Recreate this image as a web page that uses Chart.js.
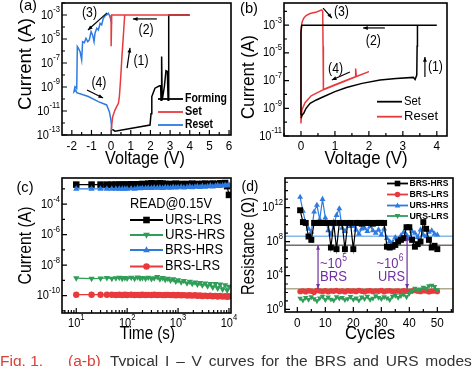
<!DOCTYPE html>
<html>
<head>
<meta charset="utf-8">
<title>Fig. 1</title>
<script src="https://cdn.jsdelivr.net/npm/chart.js@4.4.1/dist/chart.umd.min.js"></script>
<style>
  html, body { margin: 0; padding: 0; background: #fff; }
  body { width: 474px; height: 366px; position: relative; overflow: hidden; font-family: "Liberation Sans", Arial, sans-serif; }
  canvas { position: absolute; left: 0; top: 0; }
  #cap { position: absolute; left: 0; top: 353px; width: 474px; height: 20px; font-size: 15.5px; line-height: 1; white-space: nowrap; color: #333; }
  #cap span { position: absolute; top: 0; }
  .r { color: #d8403a; }
</style>
</head>
<body>
<canvas id="ca" width="474" height="366"></canvas>
<canvas id="cb" width="474" height="366"></canvas>
<canvas id="cc" width="474" height="366"></canvas>
<canvas id="cd" width="474" height="366"></canvas>
<div id="cap"><span class="r" style="left:0">Fig. 1.</span><span class="r" style="left:68px">(a-b)</span><span style="left:110px;word-spacing:2.5px">Typical I – V curves for the BRS and URS modes</span></div>
<script>
const FONT = '"Liberation Sans", Arial, sans-serif';
const RED = '#e83a3c', BLUE = '#2d7be0', GREEN = '#2f9e58', PURPLE = '#7030a0';

// (a) BRS I-V : [voltage, current]
const aForming = [[0.06, 3e-13], [0.2, 2.1e-13], [1.05, 3.6e-13], [1.98, 6.8e-13], [2.03, 6e-12], [2.07, 1.6e-10],
  [2.23, 8e-10], [2.44, 1.2e-9], [2.52, 1.3e-9], [2.54, 8e-11], [2.57, 3.4e-7], [2.6, 8e-11], [2.71, 1.1e-9],
  [2.79, 2.3e-8], [2.86, 2e-8], [2.9, 8e-11], [2.93, 1e-3], [4.0, 1e-3]];
const aSet = [[0.0, 2.6e-13], [0.08, 3.4e-12], [0.2, 1.26e-11], [0.37, 4.4e-11], [0.42, 1.6e-10], [0.49, 7.2e-9],
  [0.55, 3.4e-7], [0.62, 1.6e-5], [0.69, 1e-3], [4.0, 1e-3], [0.03, 1e-3], [0.0, 5e-4], [0.0, 2.5e-6]];
const aReset = [[0.03, 2e-4], [-0.06, 7.2e-4], [-0.14, 1.4e-3], [-0.23, 1e-3], [-0.31, 8.3e-4], [-0.4, 5.2e-4],
  [-0.48, 1.5e-4], [-0.56, 2e-4], [-0.65, 5.6e-5], [-0.73, 7.8e-5], [-0.82, 3e-5], [-0.87, 6e-6], [-0.94, 2.1e-5],
  [-1.02, 4.1e-5], [-1.11, 8.3e-6], [-1.19, 6e-6], [-1.28, 1.15e-5], [-1.36, 5e-6], [-1.45, 6e-6], [-1.5, 1.8e-7],
  [-1.58, 8.7e-7], [-1.67, 1.7e-6], [-1.72, 2.3e-6], [-1.75, 7.8e-10], [-1.84, 1.07e-9], [-1.89, 4e-10],
  [-1.8, 5.6e-10], [-1.75, 3.4e-10], [-1.16, 1.6e-10], [-0.65, 6e-11], [-0.23, 3.2e-11], [-0.09, 8.7e-12],
  [-0.01, 1.8e-12], [0.03, 3.6e-13]];
const aXTicks = [-2, -1, 0, 1, 2, 3, 4, 5, 6];
const aYExp = [-13, -11, -9, -7, -5, -3];

// (b) URS I-V
const bSet = [[0, 1.9e-10], [0.03, 3.2e-10], [0.08, 4.4e-10], [0.15, 1e-9], [0.27, 2.3e-9], [0.45, 4e-9],
  [0.66, 6.8e-9], [1.0, 1.6e-8], [1.34, 3.2e-8], [1.8, 6.3e-8], [2.33, 1.1e-7], [2.8, 1.4e-7], [3.31, 1.7e-7],
  [3.36, 1.2e-7], [3.41, 2.5e-7], [3.42, 3e-5], [3.43, 1e-3], [4.0, 1e-3], [0.02, 1e-3], [0.0, 3e-4], [0.0, 3e-10]];
const bReset = [[0.0, 8e-11], [0.0, 4e-4], [0.03, 1.6e-3], [0.08, 3.2e-3], [0.15, 5e-3], [0.27, 7e-3],
  [0.46, 9e-3], [0.61, 1.26e-2], [0.64, 1e-2], [0.65, 3e-5], [0.66, 2.3e-8], [1.0, 5e-8], [1.3, 1e-7],
  [1.6, 1.9e-7], [1.61, 7.4e-7], [1.63, 2e-7], [2.0, 4.4e-7], [0.66, 2.2e-8], [0.3, 7.9e-9], [0.12, 2.5e-9],
  [0.03, 7.9e-10], [0.0, 1e-10]];
const bXTicks = [0, 1, 2, 3, 4];
const bYExp = [-11, -9, -7, -5, -3];

// (c) retention, read at 0.15 V
const cTime = [10, 20, 30, 40, 50, 60, 70, 80, 90, 100, 120, 140, 160, 180, 200, 230, 260, 300, 340, 390,
  440, 500, 560, 630, 710, 800, 900, 1000, 1150, 1300, 1500, 1700, 1900, 2150, 2400, 2700, 3000, 3400, 3800,
  4300, 4800, 5400, 6000, 6700, 7500, 8400, 9200, 10000];
const cUrsLrs = [1.9e-3, 1.9e-3, 1.9e-3, 1.9e-3, 1.9e-3, 1.9e-3, 1.9e-3, 1.9e-3, 1.9e-3, 1.9e-3,
  2.0e-3, 1.9e-3, 2.0e-3, 2.0e-3, 2.1e-3, 2.0e-3, 2.2e-3, 2.3e-3, 2.2e-3, 2.1e-3,
  2.3e-3, 2.2e-3, 2.1e-3, 2.0e-3, 2.1e-3, 2.0e-3, 2.2e-3, 2.0e-3, 2.1e-3, 2.0e-3,
  2.1e-3, 2.0e-3, 2.2e-3, 2.0e-3, 2.1e-3, 2.0e-3, 2.1e-3, 2.2e-3, 2.0e-3, 2.1e-3,
  2.2e-3, 2.0e-3, 2.1e-3, 2.3e-3, 2.2e-3, 2.4e-3, 1.5e-3, 4e-4];
const cUrsHrs = [1.4e-9, 1.3e-9, 1.35e-9, 1.45e-9, 1.3e-9, 1.4e-9, 1.5e-9, 1.3e-9, 1.45e-9, 1.35e-9,
  1.5e-9, 1.3e-9, 1.6e-9, 1.35e-9, 1.45e-9, 1.3e-9, 1.55e-9, 1.25e-9, 1.4e-9, 1.7e-9,
  1.2e-9, 1.45e-9, 1.1e-9, 1.3e-9, 1.0e-9, 1.2e-9, 8.5e-10, 1.05e-9, 7.5e-10, 9.5e-10,
  6.5e-10, 8.5e-10, 6e-10, 7.5e-10, 5.5e-10, 7e-10, 4.8e-10, 6.5e-10, 4.2e-10, 6e-10,
  3.5e-10, 6e-10, 3e-10, 5.5e-10, 2.6e-10, 5e-10, 2.2e-10, 4e-10];
const cBrsHrs = [1.0e-3, 1.0e-3, 1.0e-3, 1.0e-3, 1.0e-3, 1.0e-3, 1.0e-3, 1.0e-3, 1.0e-3, 1.0e-3,
  1.05e-3, 1.0e-3, 1.1e-3, 1.05e-3, 1.1e-3, 1.1e-3, 1.15e-3, 1.1e-3, 1.2e-3, 1.15e-3,
  1.2e-3, 1.1e-3, 1.25e-3, 1.2e-3, 1.15e-3, 1.3e-3, 1.2e-3, 1.25e-3, 1.35e-3, 1.2e-3,
  1.3e-3, 1.4e-3, 1.25e-3, 1.35e-3, 1.45e-3, 1.3e-3, 1.5e-3, 1.35e-3, 1.45e-3, 1.6e-3,
  1.4e-3, 1.55e-3, 1.7e-3, 1.5e-3, 1.6e-3, 1.75e-3, 1.6e-3, 1.8e-3];
const cBrsLrs = [1.15e-10, 1.15e-10, 1.15e-10, 1.15e-10, 1.15e-10, 1.1e-10, 1.15e-10, 1.1e-10, 1.15e-10, 1.1e-10,
  1.15e-10, 1.1e-10, 1.12e-10, 1.1e-10, 1.15e-10, 1.1e-10, 1.12e-10, 1.1e-10, 1.15e-10, 1.1e-10,
  1.12e-10, 1.08e-10, 1.1e-10, 1.12e-10, 1.08e-10, 1.1e-10, 1.05e-10, 1.1e-10, 1.05e-10, 1.08e-10,
  1.02e-10, 1.06e-10, 1e-10, 1.05e-10, 9.8e-11, 1.02e-10, 9.5e-11, 1e-10, 9.3e-11, 9.8e-11,
  9e-11, 9.6e-11, 8.8e-11, 9.4e-11, 8.6e-11, 9.2e-11, 8.5e-11, 9e-11];
const cXExp = [1, 2, 3, 4];
const cYExp = [-10, -8, -6, -4];

// (d) endurance, resistance per cycle
const dCycle = [1, 2, 3, 4, 5, 6, 7, 8, 9, 10, 11, 12, 13, 14, 15, 16, 17, 18, 19, 20, 21, 22, 23, 24, 25,
  26, 27, 28, 29, 30, 31, 32, 33, 34, 35, 36, 37, 38, 39, 40, 41, 42, 43, 44, 45, 46, 47, 48, 49, 50];
const dBrsHrs = [5e11, 2e10, 1.6e10, 4e8, 1.6e8, 1.6e10, 1.6e10, 1.6e10, 1.6e10, 1.6e10,
  1.6e10, 2e7, 1.6e10, 1.3e7, 1.6e10, 1.6e10, 1.3e7, 1.6e10, 1.6e10, 1.3e7,
  1.6e10, 1.6e10, 1.3e10, 1.6e10, 1.6e10, 1.6e10, 1.3e10, 1.6e10, 1.6e10, 1.6e10,
  1.6e10, 2.5e7, 2e7, 2.5e7, 4e7, 1e8, 1.6e8, 2.5e8, 5e9, 5e9,
  1.6e8, 2.5e7, 5e7, 1e8, 2e10, 3.2e9, 1.6e8, 2e7, 3.2e7, 1.3e7];
const dBrsLrs = [130, 150, 120, 160, 140, 110, 170, 150, 130, 160, 120, 150, 140, 170, 130, 150, 120, 160, 140, 150,
  130, 170, 140, 120, 150, 160, 130, 150, 140, 170, 120, 150, 160, 130, 140, 150, 120, 160, 140, 130,
  150, 170, 140, 130, 160, 150, 120, 140, 150, 130];
const dUrsHrs = [1.8e13, 4e11, 1.6e10, 3.2e9, 1.3e9, 3.2e11, 2e12, 4e10, 1e13, 6.3e10,
  2e9, 7.9e8, 1e10, 1.3e11, 7.9e11, 4e9, 1.6e9, 1e10, 6.3e9, 6.3e9,
  2.5e9, 7.9e8, 3.2e9, 4e9, 1.6e9, 6.3e9, 2e9, 1e9, 2.5e9, 6.3e8,
  3.2e9, 2.5e8, 1e8, 7.9e7, 3.2e8, 2e8, 5e8, 1.3e9, 6.3e8, 2.5e8,
  1.6e9, 1e9, 3.2e8, 2.5e9, 6.3e8, 4e8, 1.3e9, 2e9, 7.9e8, 6.3e8];
const dUrsLrs = [20, 12, 25, 15, 30, 18, 10, 22, 35, 14, 28, 16, 12, 30, 20, 25, 14, 18, 32, 15,
  22, 12, 28, 18, 35, 15, 20, 40, 25, 18, 30, 22, 14, 35, 45, 25, 40, 60, 30, 80,
  150, 300, 200, 250, 400, 300, 600, 700, 500, 200];
const dLevels = [4.3e8, 3.7e7, 2.8e2]; // URS-HRS mean, BRS-HRS mean, LRS mean
const dXTicks = [0, 10, 20, 30, 40, 50];
const dYExp = [0, 4, 8, 12];

// ---------- helpers ----------
function pts(arr) { return arr.map(p => ({ x: p[0], y: p[1] })); }
function zip(xs, ys) { return xs.map((x, i) => ({ x: x, y: ys[i] })); }

function curve(data, color) {
  return { data: data, borderColor: color, backgroundColor: color, borderWidth: 1.5, showLine: true, pointRadius: 0, tension: 0 };
}
function series(data, color, style, r, rot) {
  return { data: data, borderColor: color, backgroundColor: color, borderWidth: 1.2, showLine: true,
    pointStyle: style, pointRadius: r, pointRotation: rot || 0, pointBorderWidth: 0 };
}
function opts(box, x, y) {
  return {
    responsive: false, animation: false, events: [],
    layout: { padding: { left: box[0], right: 474 - box[1], top: box[2], bottom: 366 - box[3] } },
    plugins: { legend: { display: false }, tooltip: { enabled: false } },
    scales: { x: Object.assign({ display: false }, x), y: Object.assign({ display: false }, y) }
  };
}

function txt(ctx, s, x, y, o) {
  o = o || {};
  ctx.save();
  ctx.font = (o.bold ? 'bold ' : '') + (o.size || 13) + 'px ' + FONT;
  ctx.fillStyle = o.color || '#000';
  ctx.textBaseline = 'middle';
  ctx.textAlign = o.align || 'center';
  const m = ctx.measureText(s).width;
  const sx = o.w ? o.w / m : (o.sx || 1);
  ctx.translate(x, y);
  if (o.rot) ctx.rotate(-Math.PI / 2);
  ctx.scale(sx, 1);
  ctx.fillText(s, 0, 0);
  ctx.restore();
}

function pow(ctx, base, e, x, y, align, o) {
  o = o || {};
  const size = o.size || 13, es = o.es || 9, sx = o.sx || 0.85, up = o.up || 5;
  ctx.save();
  ctx.font = size + 'px ' + FONT;
  const wb = ctx.measureText(base).width * sx;
  ctx.font = es + 'px ' + FONT;
  const we = ctx.measureText(e).width * sx;
  ctx.restore();
  const left = align === 'right' ? x - wb - we : align === 'center' ? x - (wb + we) / 2 : x;
  txt(ctx, base, left, y, { size: size, sx: sx, align: 'left', color: o.color });
  txt(ctx, e, left + wb, y - up, { size: es, sx: sx, align: 'left', color: o.color });
}

function frame(chart, t) {
  const ctx = chart.ctx, a = chart.chartArea, X = chart.scales.x, Y = chart.scales.y;
  ctx.save();
  ctx.strokeStyle = '#000';
  ctx.lineWidth = 1.2;
  ctx.beginPath();
  t.yMaj.forEach(v => { const p = Y.getPixelForValue(v); ctx.moveTo(a.left, p); ctx.lineTo(a.left + 5, p); });
  t.yMin.forEach(v => { const p = Y.getPixelForValue(v); ctx.moveTo(a.left, p); ctx.lineTo(a.left + 3, p); });
  t.xMaj.forEach(v => { const p = X.getPixelForValue(v); ctx.moveTo(p, a.bottom); ctx.lineTo(p, a.bottom - 5); });
  t.xMin.forEach(v => { const p = X.getPixelForValue(v); ctx.moveTo(p, a.bottom); ctx.lineTo(p, a.bottom - 3); });
  ctx.stroke();
  ctx.lineWidth = 1.6;
  ctx.strokeRect(a.left, a.top, a.right - a.left, a.bottom - a.top);
  ctx.restore();
}

function P(chart, x, y) { return [chart.scales.x.getPixelForValue(x), chart.scales.y.getPixelForValue(y)]; }

function head(ctx, from, to, size) {
  const ang = Math.atan2(to[1] - from[1], to[0] - from[0]);
  ctx.beginPath();
  ctx.moveTo(to[0], to[1]);
  ctx.lineTo(to[0] - size * Math.cos(ang - 0.4), to[1] - size * Math.sin(ang - 0.4));
  ctx.lineTo(to[0] - size * Math.cos(ang + 0.4), to[1] - size * Math.sin(ang + 0.4));
  ctx.closePath();
  ctx.fill();
}
function arrow(ctx, p1, p2, color, both) {
  ctx.save();
  ctx.strokeStyle = color || '#000';
  ctx.fillStyle = color || '#000';
  ctx.lineWidth = 1.2;
  ctx.beginPath();
  ctx.moveTo(p1[0], p1[1]);
  ctx.lineTo(p2[0], p2[1]);
  ctx.stroke();
  head(ctx, p1, p2, 5);
  if (both) head(ctx, p2, p1, 5);
  ctx.restore();
}

function marker(ctx, style, x, y, r, color) {
  ctx.save();
  ctx.fillStyle = color;
  ctx.beginPath();
  if (style === 'rect') ctx.rect(x - r, y - r, 2 * r, 2 * r);
  else if (style === 'circle') ctx.arc(x, y, r, 0, Math.PI * 2);
  else if (style === 'up') { ctx.moveTo(x, y - r * 1.1); ctx.lineTo(x + r, y + r * 0.7); ctx.lineTo(x - r, y + r * 0.7); }
  else { ctx.moveTo(x, y + r * 1.1); ctx.lineTo(x + r, y - r * 0.7); ctx.lineTo(x - r, y - r * 0.7); }
  ctx.closePath();
  ctx.fill();
  ctx.restore();
}
function legLine(ctx, x1, x2, y, color, w) {
  ctx.save();
  ctx.strokeStyle = color;
  ctx.lineWidth = w || 1.8;
  ctx.beginPath();
  ctx.moveTo(x1, y);
  ctx.lineTo(x2, y);
  ctx.stroke();
  ctx.restore();
}

function range(a, b, step, skip) {
  const out = [];
  for (let v = a; v <= b + 1e-9; v += step) if (!skip || skip.indexOf(Math.round(v * 100) / 100) < 0) out.push(v);
  return out;
}
const exp10 = e => Math.pow(10, e);

// ---------- (a) ----------
new Chart(document.getElementById('ca'), {
  type: 'scatter',
  data: { datasets: [curve(pts(aSet), RED), curve(pts(aReset), BLUE), curve(pts(aForming), '#000')] },
  options: opts([62, 231, 3, 135], { type: 'linear', min: -2.5, max: 6.1 }, { type: 'logarithmic', min: 1e-13, max: 1e-2 }),
  plugins: [{
    id: 'decoA',
    afterDraw(chart) {
      const ctx = chart.ctx, a = chart.chartArea, X = chart.scales.x, Y = chart.scales.y;
      frame(chart, { xMaj: aXTicks, xMin: range(-1.5, 5.5, 1), yMaj: aYExp.map(exp10), yMin: range(-12, -2, 2).map(exp10) });
      aXTicks.forEach(v => txt(ctx, String(v), X.getPixelForValue(v), a.bottom + 11, { size: 13, sx: 0.9 }));
      aYExp.forEach(e => pow(ctx, '10', String(e), a.left - 2, Y.getPixelForValue(exp10(e)), 'right'));
      txt(ctx, 'Current (A)', 25.5, 64, { size: 19, w: 92, rot: true });
      txt(ctx, 'Voltage (V)', 145, 159, { size: 19, w: 80 });
      txt(ctx, '(a)', 28, 6, { size: 15, w: 18 });
      // legend
      legLine(ctx, 158, 183, 99, '#000');
      legLine(ctx, 158, 183, 112, RED);
      legLine(ctx, 158, 183, 125, BLUE);
      txt(ctx, 'Forming', 185, 99, { size: 12, bold: true, w: 42, align: 'left' });
      txt(ctx, 'Set', 185, 112, { size: 12, bold: true, w: 17, align: 'left' });
      txt(ctx, 'Reset', 185, 125, { size: 12, bold: true, w: 28, align: 'left' });
      // sweep annotations
      const T = (s, x, y) => { const p = P(chart, x, y); txt(ctx, s, p[0], p[1], { size: 14, w: 15 }); };
      T('(3)', -1.1, 1.5e-3); arrow(ctx, P(chart, -0.21, 1.5e-3), P(chart, -1.18, 5.6e-5));
      T('(2)', 1.78, 5.6e-5); arrow(ctx, P(chart, 2.33, 4.7e-4), P(chart, 1.11, 4.7e-4));
      T('(1)', 1.52, 1.5e-7); arrow(ctx, P(chart, 0.81, 3.8e-8), P(chart, 0.96, 1.8e-6));
      T('(4)', -0.62, 2.1e-9); arrow(ctx, P(chart, -1.23, 5.6e-10), P(chart, -0.41, 1.2e-10));
    }
  }]
});

// ---------- (b) ----------
new Chart(document.getElementById('cb'), {
  type: 'scatter',
  data: { datasets: [curve(pts(bSet), '#000'), curve(pts(bReset), RED)] },
  options: opts([284, 447, 3, 136], { type: 'linear', min: -0.5, max: 4.3 }, { type: 'logarithmic', min: 1e-11, max: exp10(-1.4) }),
  plugins: [{
    id: 'decoB',
    afterDraw(chart) {
      const ctx = chart.ctx, a = chart.chartArea, X = chart.scales.x, Y = chart.scales.y;
      frame(chart, { xMaj: bXTicks, xMin: range(-0.5, 3.5, 1), yMaj: bYExp.map(exp10), yMin: range(-10, -2, 2).map(exp10) });
      bXTicks.forEach(v => txt(ctx, String(v), X.getPixelForValue(v), a.bottom + 10, { size: 13, sx: 0.9 }));
      bYExp.forEach(e => pow(ctx, '10', String(e), a.left - 2, Y.getPixelForValue(exp10(e)), 'right'));
      txt(ctx, 'Current (A)', 249, 77, { size: 19, w: 84, rot: true });
      txt(ctx, 'Voltage (V)', 366, 158.5, { size: 19, w: 83 });
      txt(ctx, '(b)', 249, 9, { size: 15, w: 18 });
      legLine(ctx, 377, 402, 101.7, '#000');
      legLine(ctx, 377, 402, 116.7, RED);
      txt(ctx, 'Set', 404, 101.7, { size: 13, w: 17, align: 'left' });
      txt(ctx, 'Reset', 404, 116.7, { size: 13, w: 34, align: 'left' });
      const T = (s, x, y) => { const p = P(chart, x, y); txt(ctx, s, p[0], p[1], { size: 14, w: 15 }); };
      T('(3)', 1.19, 8.1e-3); arrow(ctx, P(chart, 0.65, 1.7e-2), P(chart, 0.91, 3.3e-3));
      T('(2)', 2.13, 7.2e-5); arrow(ctx, P(chart, 2.47, 6.3e-4), P(chart, 1.83, 6.3e-4));
      T('(1)', 3.96, 8.7e-7); arrow(ctx, P(chart, 3.65, 1.8e-7), P(chart, 3.65, 5e-6));
      T('(4)', 1.02, 6.8e-7); arrow(ctx, P(chart, 1.44, 4.2e-7), P(chart, 0.91, 1.1e-7));
    }
  }]
});

// ---------- (c) ----------
new Chart(document.getElementById('cc'), {
  type: 'scatter',
  data: { datasets: [
    series(zip(cTime, cBrsHrs), BLUE, 'triangle', 3.6),
    series(zip(cTime, cUrsLrs), '#000', 'rect', 4.6),
    series(zip(cTime, cBrsLrs), RED, 'circle', 3.2),
    series(zip(cTime, cUrsHrs), GREEN, 'triangle', 3.6, 180)
  ] },
  options: opts([62, 231, 178, 313], { type: 'logarithmic', min: exp10(0.72), max: exp10(4.04) }, { type: 'logarithmic', min: exp10(-11.14), max: exp10(-2.29) }),
  plugins: [{
    id: 'decoC',
    afterDraw(chart) {
      const ctx = chart.ctx, a = chart.chartArea, X = chart.scales.x, Y = chart.scales.y;
      const xMin = [];
      [0, 1, 2, 3].forEach(k => [2, 3, 4, 5, 6, 7, 8, 9].forEach(m => { const v = m * exp10(k); if (v > X.min && v < X.max) xMin.push(v); }));
      frame(chart, { xMaj: cXExp.map(exp10), xMin: xMin, yMaj: cYExp.map(exp10), yMin: range(-11, -3, 2).map(exp10) });
      cXExp.forEach(e => pow(ctx, '10', String(e), X.getPixelForValue(exp10(e)), a.bottom + 10, 'center'));
      cYExp.forEach(e => pow(ctx, '10', String(e), a.left - 2, Y.getPixelForValue(exp10(e)), 'right'));
      txt(ctx, 'Current (A)', 25.5, 245.5, { size: 19, w: 78, rot: true });
      txt(ctx, 'Time (s)', 147.5, 334, { size: 19, w: 55 });
      txt(ctx, '(c)', 25, 187.5, { size: 15, w: 17 });
      txt(ctx, 'READ@0.15V', 130, 204.5, { size: 14, w: 82, align: 'left' });
      const leg = [['URS-LRS', '#000', 'rect', 220, 56.7], ['URS-HRS', GREEN, 'down', 235, 60],
        ['BRS-HRS', BLUE, 'up', 250, 58], ['BRS-LRS', RED, 'circle', 266.5, 55]];
      leg.forEach(l => {
        legLine(ctx, 130, 163, l[3], l[1], 1.8);
        marker(ctx, l[2], 146.5, l[3], 3.3, l[1]);
        txt(ctx, l[0], 165, l[3], { size: 14, w: l[4], align: 'left' });
      });
    }
  }]
});

// ---------- (d) ----------
new Chart(document.getElementById('cd'), {
  type: 'scatter',
  data: { datasets: [
    series(zip(dCycle, dUrsLrs), GREEN, 'triangle', 3.2, 180),
    series(zip(dCycle, dBrsLrs), RED, 'circle', 2.8),
    series(zip(dCycle, dBrsHrs), '#000', 'rect', 4.2),
    series(zip(dCycle, dUrsHrs), BLUE, 'triangle', 3.4)
  ] },
  options: opts([285, 453, 178, 312], { type: 'linear', min: -4.4, max: 55.6 }, { type: 'logarithmic', min: exp10(-0.3), max: exp10(15.5) }),
  plugins: [{
    id: 'decoD',
    beforeDatasetsDraw(chart) {
      const ctx = chart.ctx, a = chart.chartArea, Y = chart.scales.y;
      [['#86b6ea', dLevels[0]], ['#6e6e6e', dLevels[1]], ['#b3a88f', dLevels[2]]].forEach(l => {
        const p = Y.getPixelForValue(l[1]);
        legLine(ctx, a.left, a.right, p, l[0], 1.6);
      });
    },
    afterDraw(chart) {
      const ctx = chart.ctx, a = chart.chartArea, X = chart.scales.x, Y = chart.scales.y;
      frame(chart, { xMaj: dXTicks, xMin: range(5, 55, 10), yMaj: dYExp.map(exp10), yMin: range(1, 15, 1, [4, 8, 12]).map(exp10) });
      dXTicks.forEach(v => txt(ctx, String(v), X.getPixelForValue(v), a.bottom + 11, { size: 13, sx: 0.9 }));
      dYExp.forEach(e => pow(ctx, '10', String(e), a.left - 2, Y.getPixelForValue(exp10(e)), 'right'));
      txt(ctx, 'Resistance (\u03A9)', 248.5, 246, { size: 19, w: 98, rot: true });
      txt(ctx, 'Cycles', 370, 334, { size: 19, w: 50 });
      txt(ctx, '(d)', 250, 186.5, { size: 15, w: 17 });
      const leg = [['BRS-HRS', '#000', 'rect', 183.5], ['BRS-LRS', RED, 'circle', 194.5],
        ['URS-HRS', BLUE, 'up', 205.5], ['URS-LRS', GREEN, 'down', 216]];
      leg.forEach(l => {
        legLine(ctx, 387, 408, l[3], l[1], 1.8);
        marker(ctx, l[2], 397.5, l[3], 2.8, l[1]);
        txt(ctx, l[0], 409.5, l[3], { size: 9.5, bold: true, w: 39, align: 'left' });
      });
      // ON/OFF windows
      arrow(ctx, P(chart, 7.4, dLevels[1]), P(chart, 7.4, dLevels[2]), PURPLE, true);
      arrow(ctx, P(chart, 39.2, dLevels[0]), P(chart, 39.2, dLevels[2]), PURPLE, true);
      txt(ctx, '~10', 331, 264, { size: 15, w: 22, color: PURPLE });
      txt(ctx, '5', 344.5, 258, { size: 10, color: PURPLE, sx: 0.85 });
      txt(ctx, 'BRS', 333.5, 276.5, { size: 15, w: 27, color: PURPLE });
      txt(ctx, '~10', 387.5, 264, { size: 15, w: 22, color: PURPLE });
      txt(ctx, '6', 401, 258, { size: 10, color: PURPLE, sx: 0.85 });
      txt(ctx, 'URS', 391.5, 276.5, { size: 15, w: 27, color: PURPLE });
    }
  }]
});
</script>
</body>
</html>
